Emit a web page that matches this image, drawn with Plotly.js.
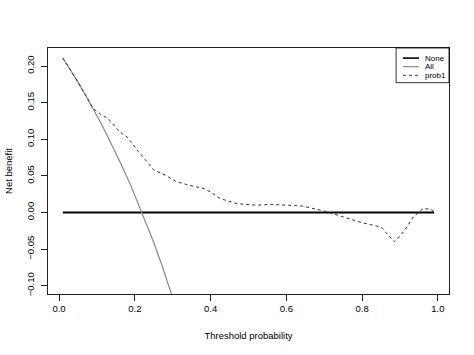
<!DOCTYPE html>
<html>
<head>
<meta charset="utf-8">
<script src="https://cdn.plot.ly/plotly-3.0.1.min.js"></script>
<style>html,body{margin:0;padding:0;background:#fff;}#chart{width:474px;height:355px;}</style>
</head>
<body>
<div id="chart"></div>
<script>
// Threshold probabilities and net benefit values
const noneX = [0.01, 0.99];
const noneY = [0, 0];

const allX = [0.01,0.03,0.05,0.07,0.09,0.11,0.13,0.15,0.17,0.19,0.21,0.23,0.25,0.27,0.29,0.31];
const allY = [0.211,0.195,0.178,0.160,0.142,0.1225,0.102,0.081,0.059,0.036,0.011,-0.014,-0.041,-0.070,-0.100,-0.132];

const probX = [0.01,0.03,0.05,0.07,0.09,0.11,0.13,0.16,0.18,0.21,0.23,0.25,0.28,0.31,0.345,0.38,0.40,0.425,0.47,0.52,0.56,0.64,0.70,0.76,0.80,0.85,0.865,0.885,0.91,0.935,0.96,0.98,0.99];
const probY = [0.211,0.195,0.178,0.160,0.142,0.134,0.128,0.110,0.103,0.083,0.070,0.058,0.051,0.042,0.037,0.033,0.028,0.019,0.012,0.010,0.011,0.009,0.002,-0.008,-0.014,-0.020,-0.029,-0.040,-0.026,-0.006,0.005,0.005,0.001];

const legendNames = ['None', 'All', 'prob1'];

const font = 'Liberation Sans, Arial, Helvetica, sans-serif';

const traces = [
  {x: noneX, y: noneY, mode: 'lines', name: legendNames[0], line: {color: '#000', width: 2}},
  {x: allX, y: allY, mode: 'lines', name: legendNames[1], line: {color: '#888', width: 1.2}},
  {x: probX, y: probY, mode: 'lines', name: legendNames[2], line: {color: '#333', width: 1, dash: '3px,3px'}}
];

// custom R-style legend
const lgY = [0.959, 0.924, 0.889];
const lgStyles = [
  {color: '#000', width: 1.6, dash: 'solid'},
  {color: '#888', width: 1.2, dash: 'solid'},
  {color: '#333', width: 1, dash: '3px,3px'}
];
const shapes = [{type: 'rect', xref: 'paper', yref: 'paper', x0: 0.868, x1: 1.0, y0: 0.859, y1: 1.0, line: {color: '#000', width: 0.8}, fillcolor: 'rgba(0,0,0,0)'}];
const annotations = [];
legendNames.forEach((n, i) => {
  shapes.push({type: 'line', xref: 'paper', yref: 'paper', x0: 0.885, x1: 0.925, y0: lgY[i], y1: lgY[i], line: lgStyles[i]});
  annotations.push({xref: 'paper', yref: 'paper', x: 0.935, y: lgY[i], text: n, showarrow: false, xanchor: 'left', yanchor: 'middle', font: {family: font, size: 8, color: '#000'}});
});

const layout = {
  width: 474, height: 355,
  margin: {l: 48, r: 25, t: 48, b: 61},
  paper_bgcolor: '#fff', plot_bgcolor: '#fff',
  showlegend: false,
  font: {family: font, size: 9.5, color: '#000'},
  xaxis: {
    range: [-0.0292, 1.0292], tickvals: [0, 0.2, 0.4, 0.6, 0.8, 1.0], tickformat: '.1f',
    showgrid: false, zeroline: false, showline: true, mirror: true, linecolor: '#222', linewidth: 1,
    ticks: 'outside', ticklen: 6, tickcolor: '#222',
    title: {text: 'Threshold probability', font: {family: font, size: 9.5}, standoff: 18}
  },
  yaxis: {
    range: [-0.1113, 0.2246], tickvals: [-0.10, -0.05, 0, 0.05, 0.10, 0.15, 0.20], tickformat: '.2f',
    tickangle: -90, ticklabelstandoff: 3,
    showgrid: false, zeroline: false, showline: true, mirror: true, linecolor: '#222', linewidth: 1,
    ticks: 'outside', ticklen: 6, tickcolor: '#222',
    title: {text: 'Net benefit', font: {family: font, size: 9.5}, standoff: 10}
  },
  shapes: shapes,
  annotations: annotations
};

Plotly.newPlot('chart', traces, layout, {displayModeBar: false, staticPlot: true});
</script>
</body>
</html>
